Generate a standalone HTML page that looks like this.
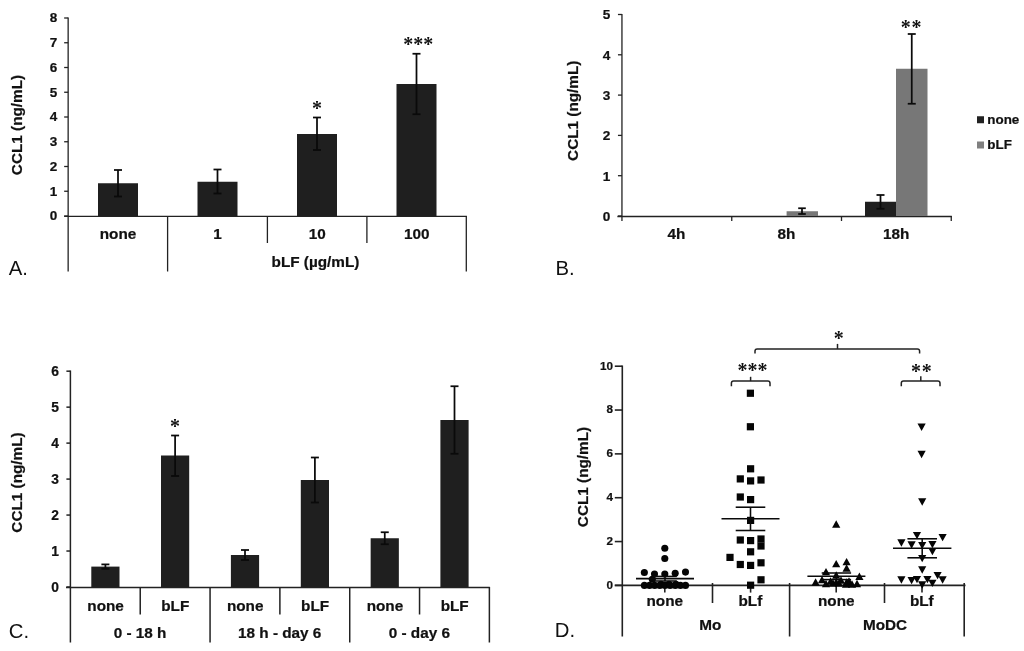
<!DOCTYPE html>
<html lang="en"><head><meta charset="utf-8"><title>CCL1 figure</title>
<style>html,body{margin:0;padding:0;background:#fff;}body{width:1024px;height:651px;overflow:hidden;}svg{display:block;filter:blur(0.35px);}text{white-space:pre;}</style>
</head><body>
<svg width="1024" height="651" viewBox="0 0 1024 651">
<rect width="1024" height="651" fill="#ffffff"/>
<line x1="68.15" y1="17.40" x2="68.15" y2="271.50" stroke="#222222" stroke-width="1.3" stroke-linecap="butt"/>
<line x1="64.15" y1="216.00" x2="68.15" y2="216.00" stroke="#222222" stroke-width="1.3" stroke-linecap="butt"/>
<text x="57.20" y="220.40" font-size="13.5" text-anchor="end" font-weight="bold" font-family='"Liberation Sans", Arial, Helvetica, sans-serif' fill="#111111" stroke="#111" stroke-width="0.22">0</text>
<line x1="64.15" y1="191.25" x2="68.15" y2="191.25" stroke="#222222" stroke-width="1.3" stroke-linecap="butt"/>
<text x="57.20" y="195.65" font-size="13.5" text-anchor="end" font-weight="bold" font-family='"Liberation Sans", Arial, Helvetica, sans-serif' fill="#111111" stroke="#111" stroke-width="0.22">1</text>
<line x1="64.15" y1="166.50" x2="68.15" y2="166.50" stroke="#222222" stroke-width="1.3" stroke-linecap="butt"/>
<text x="57.20" y="170.90" font-size="13.5" text-anchor="end" font-weight="bold" font-family='"Liberation Sans", Arial, Helvetica, sans-serif' fill="#111111" stroke="#111" stroke-width="0.22">2</text>
<line x1="64.15" y1="141.75" x2="68.15" y2="141.75" stroke="#222222" stroke-width="1.3" stroke-linecap="butt"/>
<text x="57.20" y="146.15" font-size="13.5" text-anchor="end" font-weight="bold" font-family='"Liberation Sans", Arial, Helvetica, sans-serif' fill="#111111" stroke="#111" stroke-width="0.22">3</text>
<line x1="64.15" y1="117.00" x2="68.15" y2="117.00" stroke="#222222" stroke-width="1.3" stroke-linecap="butt"/>
<text x="57.20" y="121.40" font-size="13.5" text-anchor="end" font-weight="bold" font-family='"Liberation Sans", Arial, Helvetica, sans-serif' fill="#111111" stroke="#111" stroke-width="0.22">4</text>
<line x1="64.15" y1="92.25" x2="68.15" y2="92.25" stroke="#222222" stroke-width="1.3" stroke-linecap="butt"/>
<text x="57.20" y="96.65" font-size="13.5" text-anchor="end" font-weight="bold" font-family='"Liberation Sans", Arial, Helvetica, sans-serif' fill="#111111" stroke="#111" stroke-width="0.22">5</text>
<line x1="64.15" y1="67.50" x2="68.15" y2="67.50" stroke="#222222" stroke-width="1.3" stroke-linecap="butt"/>
<text x="57.20" y="71.90" font-size="13.5" text-anchor="end" font-weight="bold" font-family='"Liberation Sans", Arial, Helvetica, sans-serif' fill="#111111" stroke="#111" stroke-width="0.22">6</text>
<line x1="64.15" y1="42.75" x2="68.15" y2="42.75" stroke="#222222" stroke-width="1.3" stroke-linecap="butt"/>
<text x="57.20" y="47.15" font-size="13.5" text-anchor="end" font-weight="bold" font-family='"Liberation Sans", Arial, Helvetica, sans-serif' fill="#111111" stroke="#111" stroke-width="0.22">7</text>
<line x1="64.15" y1="18.00" x2="68.15" y2="18.00" stroke="#222222" stroke-width="1.3" stroke-linecap="butt"/>
<text x="57.20" y="22.40" font-size="13.5" text-anchor="end" font-weight="bold" font-family='"Liberation Sans", Arial, Helvetica, sans-serif' fill="#111111" stroke="#111" stroke-width="0.22">8</text>
<line x1="64.15" y1="216.40" x2="466.90" y2="216.40" stroke="#222222" stroke-width="1.3" stroke-linecap="butt"/>
<line x1="167.60" y1="216.00" x2="167.60" y2="271.50" stroke="#222222" stroke-width="1.3" stroke-linecap="butt"/>
<line x1="267.40" y1="216.00" x2="267.40" y2="243.00" stroke="#222222" stroke-width="1.3" stroke-linecap="butt"/>
<line x1="366.90" y1="216.00" x2="366.90" y2="243.00" stroke="#222222" stroke-width="1.3" stroke-linecap="butt"/>
<line x1="466.30" y1="216.00" x2="466.30" y2="271.50" stroke="#222222" stroke-width="1.3" stroke-linecap="butt"/>
<rect x="98.00" y="183.25" width="40.00" height="32.75" fill="#1f1f1f"/>
<line x1="118.00" y1="170.00" x2="118.00" y2="196.50" stroke="#0a0a0a" stroke-width="1.75" stroke-linecap="butt"/>
<line x1="114.00" y1="170.00" x2="122.00" y2="170.00" stroke="#0a0a0a" stroke-width="1.75" stroke-linecap="butt"/>
<line x1="114.00" y1="196.50" x2="122.00" y2="196.50" stroke="#0a0a0a" stroke-width="1.75" stroke-linecap="butt"/>
<rect x="197.50" y="181.75" width="40.00" height="34.25" fill="#1f1f1f"/>
<line x1="217.50" y1="169.50" x2="217.50" y2="193.50" stroke="#0a0a0a" stroke-width="1.75" stroke-linecap="butt"/>
<line x1="213.50" y1="169.50" x2="221.50" y2="169.50" stroke="#0a0a0a" stroke-width="1.75" stroke-linecap="butt"/>
<line x1="213.50" y1="193.50" x2="221.50" y2="193.50" stroke="#0a0a0a" stroke-width="1.75" stroke-linecap="butt"/>
<rect x="297.00" y="134.00" width="40.00" height="82.00" fill="#1f1f1f"/>
<line x1="317.00" y1="117.50" x2="317.00" y2="150.00" stroke="#0a0a0a" stroke-width="1.75" stroke-linecap="butt"/>
<line x1="313.00" y1="117.50" x2="321.00" y2="117.50" stroke="#0a0a0a" stroke-width="1.75" stroke-linecap="butt"/>
<line x1="313.00" y1="150.00" x2="321.00" y2="150.00" stroke="#0a0a0a" stroke-width="1.75" stroke-linecap="butt"/>
<rect x="396.50" y="84.00" width="40.00" height="132.00" fill="#1f1f1f"/>
<line x1="416.50" y1="53.75" x2="416.50" y2="114.25" stroke="#0a0a0a" stroke-width="1.75" stroke-linecap="butt"/>
<line x1="412.50" y1="53.75" x2="420.50" y2="53.75" stroke="#0a0a0a" stroke-width="1.75" stroke-linecap="butt"/>
<line x1="412.50" y1="114.25" x2="420.50" y2="114.25" stroke="#0a0a0a" stroke-width="1.75" stroke-linecap="butt"/>
<text x="118.00" y="238.80" font-size="15.3" text-anchor="middle" font-weight="bold" font-family='"Liberation Sans", Arial, Helvetica, sans-serif' fill="#111111" stroke="#111" stroke-width="0.22">none</text>
<text x="217.50" y="238.80" font-size="15.3" text-anchor="middle" font-weight="bold" font-family='"Liberation Sans", Arial, Helvetica, sans-serif' fill="#111111" stroke="#111" stroke-width="0.22">1</text>
<text x="317.25" y="238.80" font-size="15.3" text-anchor="middle" font-weight="bold" font-family='"Liberation Sans", Arial, Helvetica, sans-serif' fill="#111111" stroke="#111" stroke-width="0.22">10</text>
<text x="416.75" y="238.80" font-size="15.3" text-anchor="middle" font-weight="bold" font-family='"Liberation Sans", Arial, Helvetica, sans-serif' fill="#111111" stroke="#111" stroke-width="0.22">100</text>
<text x="315.50" y="267.30" font-size="15.3" text-anchor="middle" font-weight="bold" font-family='"Liberation Sans", Arial, Helvetica, sans-serif' fill="#111111" stroke="#111" stroke-width="0.22">bLF (µg/mL)</text>
<text transform="translate(22.30,125.00) rotate(-90)" font-size="15.3" text-anchor="middle" font-weight="bold" font-family='"Liberation Sans", Arial, Helvetica, sans-serif' fill="#111111" stroke="#111" stroke-width="0.22">CCL1 (ng/mL)</text>
<text x="317.00" y="115.30" font-size="20" text-anchor="middle" font-weight="bold" font-family='"Liberation Serif", "Times New Roman", serif' fill="#111111" letter-spacing="0">*</text>
<text x="418.30" y="51.10" font-size="20" text-anchor="middle" font-weight="bold" font-family='"Liberation Serif", "Times New Roman", serif' fill="#111111" letter-spacing="0">***</text>
<text x="8.80" y="275.30" font-size="20.3" text-anchor="start" font-weight="normal" font-family='"Liberation Sans", Arial, Helvetica, sans-serif' fill="#111111">A.</text>
<line x1="621.95" y1="13.90" x2="621.95" y2="221.00" stroke="#222222" stroke-width="1.3" stroke-linecap="butt"/>
<line x1="617.95" y1="216.00" x2="621.95" y2="216.00" stroke="#222222" stroke-width="1.3" stroke-linecap="butt"/>
<text x="610.20" y="220.90" font-size="13.6" text-anchor="end" font-weight="bold" font-family='"Liberation Sans", Arial, Helvetica, sans-serif' fill="#111111" stroke="#111" stroke-width="0.22">0</text>
<line x1="617.95" y1="175.70" x2="621.95" y2="175.70" stroke="#222222" stroke-width="1.3" stroke-linecap="butt"/>
<text x="610.20" y="180.60" font-size="13.6" text-anchor="end" font-weight="bold" font-family='"Liberation Sans", Arial, Helvetica, sans-serif' fill="#111111" stroke="#111" stroke-width="0.22">1</text>
<line x1="617.95" y1="135.40" x2="621.95" y2="135.40" stroke="#222222" stroke-width="1.3" stroke-linecap="butt"/>
<text x="610.20" y="140.30" font-size="13.6" text-anchor="end" font-weight="bold" font-family='"Liberation Sans", Arial, Helvetica, sans-serif' fill="#111111" stroke="#111" stroke-width="0.22">2</text>
<line x1="617.95" y1="95.10" x2="621.95" y2="95.10" stroke="#222222" stroke-width="1.3" stroke-linecap="butt"/>
<text x="610.20" y="100.00" font-size="13.6" text-anchor="end" font-weight="bold" font-family='"Liberation Sans", Arial, Helvetica, sans-serif' fill="#111111" stroke="#111" stroke-width="0.22">3</text>
<line x1="617.95" y1="54.80" x2="621.95" y2="54.80" stroke="#222222" stroke-width="1.3" stroke-linecap="butt"/>
<text x="610.20" y="59.70" font-size="13.6" text-anchor="end" font-weight="bold" font-family='"Liberation Sans", Arial, Helvetica, sans-serif' fill="#111111" stroke="#111" stroke-width="0.22">4</text>
<line x1="617.95" y1="14.50" x2="621.95" y2="14.50" stroke="#222222" stroke-width="1.3" stroke-linecap="butt"/>
<text x="610.20" y="19.40" font-size="13.6" text-anchor="end" font-weight="bold" font-family='"Liberation Sans", Arial, Helvetica, sans-serif' fill="#111111" stroke="#111" stroke-width="0.22">5</text>
<line x1="617.35" y1="216.50" x2="951.80" y2="216.50" stroke="#222222" stroke-width="1.3" stroke-linecap="butt"/>
<line x1="731.75" y1="216.00" x2="731.75" y2="221.00" stroke="#222222" stroke-width="1.3" stroke-linecap="butt"/>
<line x1="841.50" y1="216.00" x2="841.50" y2="221.00" stroke="#222222" stroke-width="1.3" stroke-linecap="butt"/>
<line x1="951.25" y1="216.00" x2="951.25" y2="221.00" stroke="#222222" stroke-width="1.3" stroke-linecap="butt"/>
<rect x="786.60" y="211.25" width="31.40" height="4.75" fill="#777777"/>
<line x1="802.00" y1="208.25" x2="802.00" y2="214.00" stroke="#0a0a0a" stroke-width="1.75" stroke-linecap="butt"/>
<line x1="798.20" y1="208.25" x2="805.80" y2="208.25" stroke="#0a0a0a" stroke-width="1.75" stroke-linecap="butt"/>
<line x1="798.20" y1="214.00" x2="805.80" y2="214.00" stroke="#0a0a0a" stroke-width="1.75" stroke-linecap="butt"/>
<rect x="865.00" y="201.75" width="31.00" height="14.25" fill="#1f1f1f"/>
<line x1="880.50" y1="195.00" x2="880.50" y2="208.75" stroke="#0a0a0a" stroke-width="1.75" stroke-linecap="butt"/>
<line x1="876.50" y1="195.00" x2="884.50" y2="195.00" stroke="#0a0a0a" stroke-width="1.75" stroke-linecap="butt"/>
<line x1="876.50" y1="208.75" x2="884.50" y2="208.75" stroke="#0a0a0a" stroke-width="1.75" stroke-linecap="butt"/>
<rect x="896.00" y="68.75" width="31.50" height="147.25" fill="#777777"/>
<line x1="911.75" y1="34.00" x2="911.75" y2="103.75" stroke="#0a0a0a" stroke-width="1.75" stroke-linecap="butt"/>
<line x1="907.75" y1="34.00" x2="915.75" y2="34.00" stroke="#0a0a0a" stroke-width="1.75" stroke-linecap="butt"/>
<line x1="907.75" y1="103.75" x2="915.75" y2="103.75" stroke="#0a0a0a" stroke-width="1.75" stroke-linecap="butt"/>
<text x="676.50" y="239.00" font-size="15.3" text-anchor="middle" font-weight="bold" font-family='"Liberation Sans", Arial, Helvetica, sans-serif' fill="#111111" stroke="#111" stroke-width="0.22">4h</text>
<text x="786.50" y="239.00" font-size="15.3" text-anchor="middle" font-weight="bold" font-family='"Liberation Sans", Arial, Helvetica, sans-serif' fill="#111111" stroke="#111" stroke-width="0.22">8h</text>
<text x="896.20" y="239.00" font-size="15.3" text-anchor="middle" font-weight="bold" font-family='"Liberation Sans", Arial, Helvetica, sans-serif' fill="#111111" stroke="#111" stroke-width="0.22">18h</text>
<text transform="translate(577.80,110.75) rotate(-90)" font-size="15.3" text-anchor="middle" font-weight="bold" font-family='"Liberation Sans", Arial, Helvetica, sans-serif' fill="#111111" stroke="#111" stroke-width="0.22">CCL1 (ng/mL)</text>
<text x="911.55" y="34.30" font-size="20" text-anchor="middle" font-weight="bold" font-family='"Liberation Serif", "Times New Roman", serif' fill="#111111" letter-spacing="0.7">**</text>
<rect x="977.00" y="116.25" width="7.00" height="7.00" fill="#222"/>
<text x="987.30" y="123.60" font-size="13.4" text-anchor="start" font-weight="bold" font-family='"Liberation Sans", Arial, Helvetica, sans-serif' fill="#111111" stroke="#111" stroke-width="0.22">none</text>
<rect x="977.00" y="141.50" width="7.00" height="7.00" fill="#808080"/>
<text x="987.30" y="148.90" font-size="13.4" text-anchor="start" font-weight="bold" font-family='"Liberation Sans", Arial, Helvetica, sans-serif' fill="#111111" stroke="#111" stroke-width="0.22">bLF</text>
<text x="555.40" y="275.30" font-size="20.3" text-anchor="start" font-weight="normal" font-family='"Liberation Sans", Arial, Helvetica, sans-serif' fill="#111111">B.</text>
<line x1="70.40" y1="370.58" x2="70.40" y2="642.50" stroke="#222222" stroke-width="1.5" stroke-linecap="butt"/>
<line x1="66.40" y1="587.00" x2="70.40" y2="587.00" stroke="#222222" stroke-width="1.5" stroke-linecap="butt"/>
<text x="58.90" y="591.50" font-size="13.8" text-anchor="end" font-weight="bold" font-family='"Liberation Sans", Arial, Helvetica, sans-serif' fill="#111111" stroke="#111" stroke-width="0.22">0</text>
<line x1="66.40" y1="551.03" x2="70.40" y2="551.03" stroke="#222222" stroke-width="1.5" stroke-linecap="butt"/>
<text x="58.90" y="555.53" font-size="13.8" text-anchor="end" font-weight="bold" font-family='"Liberation Sans", Arial, Helvetica, sans-serif' fill="#111111" stroke="#111" stroke-width="0.22">1</text>
<line x1="66.40" y1="515.06" x2="70.40" y2="515.06" stroke="#222222" stroke-width="1.5" stroke-linecap="butt"/>
<text x="58.90" y="519.56" font-size="13.8" text-anchor="end" font-weight="bold" font-family='"Liberation Sans", Arial, Helvetica, sans-serif' fill="#111111" stroke="#111" stroke-width="0.22">2</text>
<line x1="66.40" y1="479.09" x2="70.40" y2="479.09" stroke="#222222" stroke-width="1.5" stroke-linecap="butt"/>
<text x="58.90" y="483.59" font-size="13.8" text-anchor="end" font-weight="bold" font-family='"Liberation Sans", Arial, Helvetica, sans-serif' fill="#111111" stroke="#111" stroke-width="0.22">3</text>
<line x1="66.40" y1="443.12" x2="70.40" y2="443.12" stroke="#222222" stroke-width="1.5" stroke-linecap="butt"/>
<text x="58.90" y="447.62" font-size="13.8" text-anchor="end" font-weight="bold" font-family='"Liberation Sans", Arial, Helvetica, sans-serif' fill="#111111" stroke="#111" stroke-width="0.22">4</text>
<line x1="66.40" y1="407.15" x2="70.40" y2="407.15" stroke="#222222" stroke-width="1.5" stroke-linecap="butt"/>
<text x="58.90" y="411.65" font-size="13.8" text-anchor="end" font-weight="bold" font-family='"Liberation Sans", Arial, Helvetica, sans-serif' fill="#111111" stroke="#111" stroke-width="0.22">5</text>
<line x1="66.40" y1="371.18" x2="70.40" y2="371.18" stroke="#222222" stroke-width="1.5" stroke-linecap="butt"/>
<text x="58.90" y="375.68" font-size="13.8" text-anchor="end" font-weight="bold" font-family='"Liberation Sans", Arial, Helvetica, sans-serif' fill="#111111" stroke="#111" stroke-width="0.22">6</text>
<line x1="66.00" y1="587.45" x2="489.80" y2="587.45" stroke="#222222" stroke-width="1.5" stroke-linecap="butt"/>
<line x1="140.23" y1="587.00" x2="140.23" y2="614.50" stroke="#222222" stroke-width="1.5" stroke-linecap="butt"/>
<line x1="210.06" y1="587.00" x2="210.06" y2="642.50" stroke="#222222" stroke-width="1.5" stroke-linecap="butt"/>
<line x1="279.89" y1="587.00" x2="279.89" y2="614.50" stroke="#222222" stroke-width="1.5" stroke-linecap="butt"/>
<line x1="349.72" y1="587.00" x2="349.72" y2="642.50" stroke="#222222" stroke-width="1.5" stroke-linecap="butt"/>
<line x1="419.55" y1="587.00" x2="419.55" y2="614.50" stroke="#222222" stroke-width="1.5" stroke-linecap="butt"/>
<line x1="489.38" y1="587.00" x2="489.38" y2="642.50" stroke="#222222" stroke-width="1.5" stroke-linecap="butt"/>
<rect x="91.30" y="566.60" width="28.20" height="20.40" fill="#1f1f1f"/>
<line x1="105.40" y1="564.40" x2="105.40" y2="568.80" stroke="#0a0a0a" stroke-width="1.75" stroke-linecap="butt"/>
<line x1="101.40" y1="564.40" x2="109.40" y2="564.40" stroke="#0a0a0a" stroke-width="1.75" stroke-linecap="butt"/>
<line x1="101.40" y1="568.80" x2="109.40" y2="568.80" stroke="#0a0a0a" stroke-width="1.75" stroke-linecap="butt"/>
<rect x="161.00" y="455.50" width="28.20" height="131.50" fill="#1f1f1f"/>
<line x1="175.10" y1="435.50" x2="175.10" y2="476.00" stroke="#0a0a0a" stroke-width="1.75" stroke-linecap="butt"/>
<line x1="171.10" y1="435.50" x2="179.10" y2="435.50" stroke="#0a0a0a" stroke-width="1.75" stroke-linecap="butt"/>
<line x1="171.10" y1="476.00" x2="179.10" y2="476.00" stroke="#0a0a0a" stroke-width="1.75" stroke-linecap="butt"/>
<rect x="230.90" y="555.00" width="28.20" height="32.00" fill="#1f1f1f"/>
<line x1="245.00" y1="550.00" x2="245.00" y2="560.00" stroke="#0a0a0a" stroke-width="1.75" stroke-linecap="butt"/>
<line x1="241.00" y1="550.00" x2="249.00" y2="550.00" stroke="#0a0a0a" stroke-width="1.75" stroke-linecap="butt"/>
<line x1="241.00" y1="560.00" x2="249.00" y2="560.00" stroke="#0a0a0a" stroke-width="1.75" stroke-linecap="butt"/>
<rect x="300.80" y="480.00" width="28.20" height="107.00" fill="#1f1f1f"/>
<line x1="314.90" y1="457.50" x2="314.90" y2="502.50" stroke="#0a0a0a" stroke-width="1.75" stroke-linecap="butt"/>
<line x1="310.90" y1="457.50" x2="318.90" y2="457.50" stroke="#0a0a0a" stroke-width="1.75" stroke-linecap="butt"/>
<line x1="310.90" y1="502.50" x2="318.90" y2="502.50" stroke="#0a0a0a" stroke-width="1.75" stroke-linecap="butt"/>
<rect x="370.65" y="538.25" width="28.20" height="48.75" fill="#1f1f1f"/>
<line x1="384.75" y1="532.25" x2="384.75" y2="544.25" stroke="#0a0a0a" stroke-width="1.75" stroke-linecap="butt"/>
<line x1="380.75" y1="532.25" x2="388.75" y2="532.25" stroke="#0a0a0a" stroke-width="1.75" stroke-linecap="butt"/>
<line x1="380.75" y1="544.25" x2="388.75" y2="544.25" stroke="#0a0a0a" stroke-width="1.75" stroke-linecap="butt"/>
<rect x="440.40" y="420.00" width="28.20" height="167.00" fill="#1f1f1f"/>
<line x1="454.50" y1="386.25" x2="454.50" y2="453.75" stroke="#0a0a0a" stroke-width="1.75" stroke-linecap="butt"/>
<line x1="450.50" y1="386.25" x2="458.50" y2="386.25" stroke="#0a0a0a" stroke-width="1.75" stroke-linecap="butt"/>
<line x1="450.50" y1="453.75" x2="458.50" y2="453.75" stroke="#0a0a0a" stroke-width="1.75" stroke-linecap="butt"/>
<text x="105.60" y="610.70" font-size="15.3" text-anchor="middle" font-weight="bold" font-family='"Liberation Sans", Arial, Helvetica, sans-serif' fill="#111111" stroke="#111" stroke-width="0.22">none</text>
<text x="175.30" y="610.70" font-size="15.3" text-anchor="middle" font-weight="bold" font-family='"Liberation Sans", Arial, Helvetica, sans-serif' fill="#111111" stroke="#111" stroke-width="0.22">bLF</text>
<text x="245.20" y="610.70" font-size="15.3" text-anchor="middle" font-weight="bold" font-family='"Liberation Sans", Arial, Helvetica, sans-serif' fill="#111111" stroke="#111" stroke-width="0.22">none</text>
<text x="315.10" y="610.70" font-size="15.3" text-anchor="middle" font-weight="bold" font-family='"Liberation Sans", Arial, Helvetica, sans-serif' fill="#111111" stroke="#111" stroke-width="0.22">bLF</text>
<text x="384.95" y="610.70" font-size="15.3" text-anchor="middle" font-weight="bold" font-family='"Liberation Sans", Arial, Helvetica, sans-serif' fill="#111111" stroke="#111" stroke-width="0.22">none</text>
<text x="454.70" y="610.70" font-size="15.3" text-anchor="middle" font-weight="bold" font-family='"Liberation Sans", Arial, Helvetica, sans-serif' fill="#111111" stroke="#111" stroke-width="0.22">bLF</text>
<text x="140.00" y="637.60" font-size="15.3" text-anchor="middle" font-weight="bold" font-family='"Liberation Sans", Arial, Helvetica, sans-serif' fill="#111111" stroke="#111" stroke-width="0.22">0 - 18 h</text>
<text x="279.70" y="637.60" font-size="15.3" text-anchor="middle" font-weight="bold" font-family='"Liberation Sans", Arial, Helvetica, sans-serif' fill="#111111" stroke="#111" stroke-width="0.22">18 h - day 6</text>
<text x="419.30" y="637.60" font-size="15.3" text-anchor="middle" font-weight="bold" font-family='"Liberation Sans", Arial, Helvetica, sans-serif' fill="#111111" stroke="#111" stroke-width="0.22">0 - day 6</text>
<text transform="translate(22.00,482.50) rotate(-90)" font-size="15.3" text-anchor="middle" font-weight="bold" font-family='"Liberation Sans", Arial, Helvetica, sans-serif' fill="#111111" stroke="#111" stroke-width="0.22">CCL1 (ng/mL)</text>
<text x="175.00" y="433.30" font-size="20" text-anchor="middle" font-weight="bold" font-family='"Liberation Serif", "Times New Roman", serif' fill="#111111" letter-spacing="0">*</text>
<text x="8.80" y="637.60" font-size="20.3" text-anchor="start" font-weight="normal" font-family='"Liberation Sans", Arial, Helvetica, sans-serif' fill="#111111">C.</text>
<line x1="622.30" y1="365.60" x2="622.30" y2="636.50" stroke="#222222" stroke-width="1.6" stroke-linecap="butt"/>
<line x1="614.80" y1="585.40" x2="622.30" y2="585.40" stroke="#222222" stroke-width="1.6" stroke-linecap="butt"/>
<text x="613.00" y="588.80" font-size="11.7" text-anchor="end" font-weight="bold" font-family='"Liberation Sans", Arial, Helvetica, sans-serif' fill="#111111" stroke="#111" stroke-width="0.22" stroke="#111" stroke-width="0.2">0</text>
<line x1="614.80" y1="541.56" x2="622.30" y2="541.56" stroke="#222222" stroke-width="1.6" stroke-linecap="butt"/>
<text x="613.00" y="544.96" font-size="11.7" text-anchor="end" font-weight="bold" font-family='"Liberation Sans", Arial, Helvetica, sans-serif' fill="#111111" stroke="#111" stroke-width="0.22" stroke="#111" stroke-width="0.2">2</text>
<line x1="614.80" y1="497.72" x2="622.30" y2="497.72" stroke="#222222" stroke-width="1.6" stroke-linecap="butt"/>
<text x="613.00" y="501.12" font-size="11.7" text-anchor="end" font-weight="bold" font-family='"Liberation Sans", Arial, Helvetica, sans-serif' fill="#111111" stroke="#111" stroke-width="0.22" stroke="#111" stroke-width="0.2">4</text>
<line x1="614.80" y1="453.88" x2="622.30" y2="453.88" stroke="#222222" stroke-width="1.6" stroke-linecap="butt"/>
<text x="613.00" y="457.28" font-size="11.7" text-anchor="end" font-weight="bold" font-family='"Liberation Sans", Arial, Helvetica, sans-serif' fill="#111111" stroke="#111" stroke-width="0.22" stroke="#111" stroke-width="0.2">6</text>
<line x1="614.80" y1="410.04" x2="622.30" y2="410.04" stroke="#222222" stroke-width="1.6" stroke-linecap="butt"/>
<text x="613.00" y="413.44" font-size="11.7" text-anchor="end" font-weight="bold" font-family='"Liberation Sans", Arial, Helvetica, sans-serif' fill="#111111" stroke="#111" stroke-width="0.22" stroke="#111" stroke-width="0.2">8</text>
<line x1="614.80" y1="366.20" x2="622.30" y2="366.20" stroke="#222222" stroke-width="1.6" stroke-linecap="butt"/>
<text x="613.00" y="369.60" font-size="11.7" text-anchor="end" font-weight="bold" font-family='"Liberation Sans", Arial, Helvetica, sans-serif' fill="#111111" stroke="#111" stroke-width="0.22" stroke="#111" stroke-width="0.2">10</text>
<line x1="614.80" y1="585.40" x2="965.50" y2="585.40" stroke="#222222" stroke-width="1.6" stroke-linecap="butt"/>
<line x1="712.50" y1="583.00" x2="712.50" y2="603.00" stroke="#222222" stroke-width="1.6" stroke-linecap="butt"/>
<line x1="789.60" y1="583.00" x2="789.60" y2="636.50" stroke="#222222" stroke-width="1.6" stroke-linecap="butt"/>
<line x1="884.50" y1="583.00" x2="884.50" y2="603.00" stroke="#222222" stroke-width="1.6" stroke-linecap="butt"/>
<line x1="964.20" y1="583.00" x2="964.20" y2="636.50" stroke="#222222" stroke-width="1.6" stroke-linecap="butt"/>
<line x1="664.80" y1="585.40" x2="664.80" y2="592.60" stroke="#222222" stroke-width="1.6" stroke-linecap="butt"/>
<line x1="750.60" y1="585.40" x2="750.60" y2="592.60" stroke="#222222" stroke-width="1.6" stroke-linecap="butt"/>
<line x1="836.20" y1="585.40" x2="836.20" y2="592.60" stroke="#222222" stroke-width="1.6" stroke-linecap="butt"/>
<line x1="922.00" y1="585.40" x2="922.00" y2="592.60" stroke="#222222" stroke-width="1.6" stroke-linecap="butt"/>
<circle cx="664.80" cy="548.20" r="3.55" fill="#050505"/>
<circle cx="664.80" cy="558.50" r="3.55" fill="#050505"/>
<circle cx="644.35" cy="572.50" r="3.55" fill="#050505"/>
<circle cx="685.50" cy="572.10" r="3.55" fill="#050505"/>
<circle cx="654.50" cy="574.00" r="3.55" fill="#050505"/>
<circle cx="664.80" cy="574.00" r="3.55" fill="#050505"/>
<circle cx="675.20" cy="573.20" r="3.55" fill="#050505"/>
<circle cx="652.30" cy="579.20" r="3.55" fill="#050505"/>
<circle cx="661.00" cy="584.30" r="3.55" fill="#050505"/>
<circle cx="669.00" cy="584.30" r="3.55" fill="#050505"/>
<circle cx="676.00" cy="584.30" r="3.55" fill="#050505"/>
<circle cx="644.40" cy="585.40" r="3.55" fill="#050505"/>
<circle cx="649.54" cy="585.40" r="3.55" fill="#050505"/>
<circle cx="654.68" cy="585.40" r="3.55" fill="#050505"/>
<circle cx="659.82" cy="585.40" r="3.55" fill="#050505"/>
<circle cx="664.96" cy="585.40" r="3.55" fill="#050505"/>
<circle cx="670.10" cy="585.40" r="3.55" fill="#050505"/>
<circle cx="675.24" cy="585.40" r="3.55" fill="#050505"/>
<circle cx="680.38" cy="585.40" r="3.55" fill="#050505"/>
<circle cx="685.52" cy="585.40" r="3.55" fill="#050505"/>
<line x1="636.00" y1="578.60" x2="694.00" y2="578.60" stroke="#0a0a0a" stroke-width="1.55" stroke-linecap="butt"/>
<line x1="653.20" y1="576.40" x2="676.80" y2="576.40" stroke="#0a0a0a" stroke-width="1.55" stroke-linecap="butt"/>
<line x1="653.20" y1="581.00" x2="676.80" y2="581.00" stroke="#0a0a0a" stroke-width="1.55" stroke-linecap="butt"/>
<line x1="665.00" y1="576.40" x2="665.00" y2="581.00" stroke="#0a0a0a" stroke-width="1.55" stroke-linecap="butt"/>
<rect x="746.80" y="389.65" width="7.2" height="7.2" fill="#050505"/>
<rect x="746.80" y="423.15" width="7.2" height="7.2" fill="#050505"/>
<rect x="747.00" y="465.20" width="7.2" height="7.2" fill="#050505"/>
<rect x="736.70" y="475.30" width="7.2" height="7.2" fill="#050505"/>
<rect x="747.00" y="477.30" width="7.2" height="7.2" fill="#050505"/>
<rect x="757.40" y="476.40" width="7.2" height="7.2" fill="#050505"/>
<rect x="736.70" y="493.40" width="7.2" height="7.2" fill="#050505"/>
<rect x="747.00" y="496.00" width="7.2" height="7.2" fill="#050505"/>
<rect x="747.00" y="516.80" width="7.2" height="7.2" fill="#050505"/>
<rect x="736.70" y="536.40" width="7.2" height="7.2" fill="#050505"/>
<rect x="747.00" y="537.00" width="7.2" height="7.2" fill="#050505"/>
<rect x="757.40" y="535.40" width="7.2" height="7.2" fill="#050505"/>
<rect x="757.40" y="542.40" width="7.2" height="7.2" fill="#050505"/>
<rect x="747.00" y="548.20" width="7.2" height="7.2" fill="#050505"/>
<rect x="726.40" y="553.80" width="7.2" height="7.2" fill="#050505"/>
<rect x="736.70" y="560.90" width="7.2" height="7.2" fill="#050505"/>
<rect x="747.00" y="561.80" width="7.2" height="7.2" fill="#050505"/>
<rect x="757.40" y="559.20" width="7.2" height="7.2" fill="#050505"/>
<rect x="757.40" y="576.20" width="7.2" height="7.2" fill="#050505"/>
<rect x="747.00" y="581.60" width="7.2" height="7.2" fill="#050505"/>
<line x1="721.50" y1="518.80" x2="779.50" y2="518.80" stroke="#0a0a0a" stroke-width="1.55" stroke-linecap="butt"/>
<line x1="735.70" y1="507.20" x2="765.30" y2="507.20" stroke="#0a0a0a" stroke-width="1.55" stroke-linecap="butt"/>
<line x1="735.70" y1="530.50" x2="765.30" y2="530.50" stroke="#0a0a0a" stroke-width="1.55" stroke-linecap="butt"/>
<line x1="750.50" y1="507.20" x2="750.50" y2="530.50" stroke="#0a0a0a" stroke-width="1.55" stroke-linecap="butt"/>
<polygon points="832.10,527.70 840.30,527.70 836.20,520.30" fill="#050505"/>
<polygon points="832.10,567.30 840.30,567.30 836.20,559.90" fill="#050505"/>
<polygon points="842.50,565.30 850.70,565.30 846.60,557.90" fill="#050505"/>
<polygon points="842.50,571.70 850.70,571.70 846.60,564.30" fill="#050505"/>
<polygon points="821.90,575.30 830.10,575.30 826.00,567.90" fill="#050505"/>
<polygon points="832.10,578.70 840.30,578.70 836.20,571.30" fill="#050505"/>
<polygon points="855.30,579.90 863.50,579.90 859.40,572.50" fill="#050505"/>
<polygon points="811.50,585.70 819.70,585.70 815.60,578.30" fill="#050505"/>
<polygon points="817.90,583.30 826.10,583.30 822.00,575.90" fill="#050505"/>
<polygon points="821.90,587.20 830.10,587.20 826.00,579.80" fill="#050505"/>
<polygon points="832.10,585.70 840.30,585.70 836.20,578.30" fill="#050505"/>
<polygon points="828.90,586.70 837.10,586.70 833.00,579.30" fill="#050505"/>
<polygon points="834.90,586.70 843.10,586.70 839.00,579.30" fill="#050505"/>
<polygon points="842.50,585.70 850.70,585.70 846.60,578.30" fill="#050505"/>
<polygon points="844.90,584.70 853.10,584.70 849.00,577.30" fill="#050505"/>
<polygon points="852.90,587.20 861.10,587.20 857.00,579.80" fill="#050505"/>
<polygon points="841.90,587.70 850.10,587.70 846.00,580.30" fill="#050505"/>
<polygon points="826.50,584.70 834.70,584.70 830.60,577.30" fill="#050505"/>
<polygon points="836.90,583.70 845.10,583.70 841.00,576.30" fill="#050505"/>
<polygon points="847.90,587.70 856.10,587.70 852.00,580.30" fill="#050505"/>
<line x1="807.40" y1="576.20" x2="865.40" y2="576.20" stroke="#0a0a0a" stroke-width="1.55" stroke-linecap="butt"/>
<line x1="821.70" y1="573.00" x2="851.10" y2="573.00" stroke="#0a0a0a" stroke-width="1.55" stroke-linecap="butt"/>
<line x1="821.70" y1="579.60" x2="851.10" y2="579.60" stroke="#0a0a0a" stroke-width="1.55" stroke-linecap="butt"/>
<line x1="836.40" y1="573.00" x2="836.40" y2="579.60" stroke="#0a0a0a" stroke-width="1.55" stroke-linecap="butt"/>
<polygon points="917.50,423.50 925.70,423.50 921.60,430.90" fill="#050505"/>
<polygon points="917.50,450.80 925.70,450.80 921.60,458.20" fill="#050505"/>
<polygon points="918.10,498.30 926.30,498.30 922.20,505.70" fill="#050505"/>
<polygon points="912.90,531.90 921.10,531.90 917.00,539.30" fill="#050505"/>
<polygon points="938.50,533.90 946.70,533.90 942.60,541.30" fill="#050505"/>
<polygon points="897.30,539.30 905.50,539.30 901.40,546.70" fill="#050505"/>
<polygon points="907.50,541.30 915.70,541.30 911.60,548.70" fill="#050505"/>
<polygon points="918.10,541.90 926.30,541.90 922.20,549.30" fill="#050505"/>
<polygon points="928.30,540.90 936.50,540.90 932.40,548.30" fill="#050505"/>
<polygon points="928.30,547.90 936.50,547.90 932.40,555.30" fill="#050505"/>
<polygon points="918.10,554.90 926.30,554.90 922.20,562.30" fill="#050505"/>
<polygon points="918.10,566.30 926.30,566.30 922.20,573.70" fill="#050505"/>
<polygon points="933.50,571.90 941.70,571.90 937.60,579.30" fill="#050505"/>
<polygon points="897.30,576.30 905.50,576.30 901.40,583.70" fill="#050505"/>
<polygon points="907.50,576.90 915.70,576.90 911.60,584.30" fill="#050505"/>
<polygon points="912.90,575.90 921.10,575.90 917.00,583.30" fill="#050505"/>
<polygon points="923.30,575.90 931.50,575.90 927.40,583.30" fill="#050505"/>
<polygon points="938.50,576.30 946.70,576.30 942.60,583.70" fill="#050505"/>
<polygon points="928.30,579.70 936.50,579.70 932.40,587.10" fill="#050505"/>
<polygon points="918.10,581.30 926.30,581.30 922.20,588.70" fill="#050505"/>
<line x1="893.00" y1="548.20" x2="951.40" y2="548.20" stroke="#0a0a0a" stroke-width="1.55" stroke-linecap="butt"/>
<line x1="907.40" y1="538.80" x2="937.00" y2="538.80" stroke="#0a0a0a" stroke-width="1.55" stroke-linecap="butt"/>
<line x1="907.40" y1="557.80" x2="937.00" y2="557.80" stroke="#0a0a0a" stroke-width="1.55" stroke-linecap="butt"/>
<line x1="922.20" y1="538.80" x2="922.20" y2="557.80" stroke="#0a0a0a" stroke-width="1.55" stroke-linecap="butt"/>
<path d="M731.40,386.30 V383.30 Q731.40,381.10 733.60,381.10 H767.80 Q770.00,381.10 770.00,383.30 V386.30" fill="none" stroke="#222222" stroke-width="1.5"/>
<line x1="750.60" y1="381.10" x2="750.60" y2="376.80" stroke="#222222" stroke-width="1.5" stroke-linecap="butt"/>
<path d="M901.30,386.30 V383.30 Q901.30,381.10 903.50,381.10 H937.80 Q940.00,381.10 940.00,383.30 V386.30" fill="none" stroke="#222222" stroke-width="1.5"/>
<line x1="920.80" y1="381.10" x2="920.80" y2="376.30" stroke="#222222" stroke-width="1.5" stroke-linecap="butt"/>
<path d="M755.00,353.60 V351.10 Q755.00,348.90 757.20,348.90 H917.40 Q919.60,348.90 919.60,351.10 V353.60" fill="none" stroke="#222222" stroke-width="1.5"/>
<line x1="837.50" y1="348.90" x2="837.50" y2="343.90" stroke="#222222" stroke-width="1.5" stroke-linecap="butt"/>
<text x="752.60" y="377.10" font-size="20" text-anchor="middle" font-weight="bold" font-family='"Liberation Serif", "Times New Roman", serif' fill="#111111" letter-spacing="0">***</text>
<text x="921.65" y="378.40" font-size="20" text-anchor="middle" font-weight="bold" font-family='"Liberation Serif", "Times New Roman", serif' fill="#111111" letter-spacing="0.7">**</text>
<text x="838.70" y="344.60" font-size="20" text-anchor="middle" font-weight="bold" font-family='"Liberation Serif", "Times New Roman", serif' fill="#111111" letter-spacing="0">*</text>
<text x="664.80" y="606.00" font-size="15.3" text-anchor="middle" font-weight="bold" font-family='"Liberation Sans", Arial, Helvetica, sans-serif' fill="#111111" stroke="#111" stroke-width="0.22">none</text>
<text x="750.40" y="606.00" font-size="15.3" text-anchor="middle" font-weight="bold" font-family='"Liberation Sans", Arial, Helvetica, sans-serif' fill="#111111" stroke="#111" stroke-width="0.22">bLf</text>
<text x="836.30" y="606.00" font-size="15.3" text-anchor="middle" font-weight="bold" font-family='"Liberation Sans", Arial, Helvetica, sans-serif' fill="#111111" stroke="#111" stroke-width="0.22">none</text>
<text x="921.80" y="606.00" font-size="15.3" text-anchor="middle" font-weight="bold" font-family='"Liberation Sans", Arial, Helvetica, sans-serif' fill="#111111" stroke="#111" stroke-width="0.22">bLf</text>
<text x="710.40" y="630.00" font-size="15.3" text-anchor="middle" font-weight="bold" font-family='"Liberation Sans", Arial, Helvetica, sans-serif' fill="#111111" stroke="#111" stroke-width="0.22">Mo</text>
<text x="885.00" y="630.00" font-size="15.3" text-anchor="middle" font-weight="bold" font-family='"Liberation Sans", Arial, Helvetica, sans-serif' fill="#111111" stroke="#111" stroke-width="0.22">MoDC</text>
<text transform="translate(588.30,477.00) rotate(-90)" font-size="15.3" text-anchor="middle" font-weight="bold" font-family='"Liberation Sans", Arial, Helvetica, sans-serif' fill="#111111" stroke="#111" stroke-width="0.22">CCL1 (ng/mL)</text>
<text x="554.80" y="637.00" font-size="20.3" text-anchor="start" font-weight="normal" font-family='"Liberation Sans", Arial, Helvetica, sans-serif' fill="#111111">D.</text>
</svg>
</body></html>
